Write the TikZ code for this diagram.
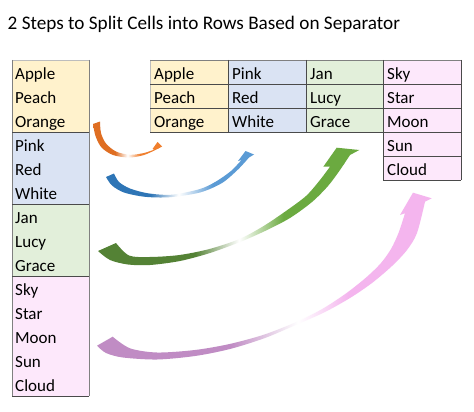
\documentclass[tikz,border=0pt]{standalone}
\usepackage{fontspec}
\setmainfont{Carlito}
\definecolor{cApple}{HTML}{FFF2CC}
\definecolor{cPink}{HTML}{DAE3F3}
\definecolor{cJan}{HTML}{E2EFDA}
\definecolor{cSky}{HTML}{FDE8FB}
\definecolor{gridDark}{HTML}{4A4A4A}
\definecolor{gridLight}{HTML}{BDBDBD}
\definecolor{gridMid}{HTML}{808080}
\definecolor{orT}{HTML}{DF6E22}
\definecolor{orH}{HTML}{F07F2E}
\definecolor{blT}{HTML}{2E75B6}
\definecolor{blH}{HTML}{5B9BD5}
\definecolor{grT}{HTML}{548235}
\definecolor{grH}{HTML}{6BAA40}
\definecolor{piT}{HTML}{C08CC4}
\definecolor{piH}{HTML}{F4B5EE}
\pgfdeclarehorizontalshading{orsh}{100bp}{color(0bp)=(orT); color(41bp)=(orT); color(50bp)=(white); color(59bp)=(orH); color(100bp)=(orH)}
\pgfdeclarehorizontalshading{blsh}{100bp}{color(0bp)=(blT); color(40bp)=(blT); color(49.5bp)=(white); color(61bp)=(blH); color(100bp)=(blH)}
\pgfdeclarehorizontalshading{grsh}{100bp}{color(0bp)=(grT); color(43.5bp)=(grT); color(52bp)=(white); color(60.5bp)=(grH); color(100bp)=(grH)}
\pgfdeclarehorizontalshading{pish}{100bp}{color(0bp)=(piT); color(45bp)=(piT); color(55bp)=(white); color(62.5bp)=(piH); color(100bp)=(piH)}
\tikzset{
  cell/.style={anchor=base west, inner sep=0pt, font=\fontsize{17}{20}\selectfont, text=black},
  titletext/.style={anchor=base west, inner sep=0pt, font=\fontsize{19.2}{22}\selectfont, text=black},
  darkline/.style={draw=gridDark, line width=0.9pt},
  midline/.style={draw=gridMid, line width=0.9pt},
  lightline/.style={draw=gridLight, line width=0.8pt}
}
\begin{document}
\begin{tikzpicture}[x=1pt,y=-1pt]
\useasboundingbox (0,0) rectangle (474,412);
\fill[white] (0,0) rectangle (474,412);
% title
\node[titletext] (title) at (7.5,30) {2 Steps to Split Cells into Rows Based on Separator};
% left column fills
\fill[cApple] (12,60) rectangle (89,132);
\fill[cPink] (12,132) rectangle (89,204);
\fill[cJan] (12,204) rectangle (89,276);
\fill[cSky] (12,276) rectangle (89,396);
% right table fills
\fill[cApple] (150,60) rectangle (228,132);
\fill[cPink] (228,60) rectangle (306,132);
\fill[cJan] (306,60) rectangle (383,132);
\fill[cSky] (383,60) rectangle (461,180);
% left column lines
\draw[lightline] (12,60) -- (89,60);
\draw[midline] (12,60) -- (12,396);
\draw[midline] (89,60) -- (89,396);
\draw[darkline] (12,132) -- (89,132) (12,204) -- (89,204) (12,276) -- (89,276) (12,396) -- (89,396);
% right table lines
\draw[lightline] (150,60) -- (150,132);
\draw[midline] (150,60) -- (461,60);
\draw[darkline] (150,84) -- (461,84) (150,108) -- (461,108) (150,132) -- (461,132);
\draw[darkline] (383,156) -- (461,156) (383,180) -- (461,180);
\draw[darkline] (228,60) -- (228,132) (306,60) -- (306,132) (383,60) -- (383,180) (461,60) -- (461,180);
% left column texts
\foreach \t [count=\i] in {Apple,Peach,Orange,Pink,Red,White,Jan,Lucy,Grace,Sky,Star,Moon,Sun,Cloud}
  \node[cell] (L\i) at (15,{60+24*(\i-1)+19}) {\t};
% right table texts
\foreach \t [count=\i] in {Apple,Peach,Orange}
  \node[cell] (RA\i) at (154,{60+24*(\i-1)+19}) {\t};
\foreach \t [count=\i] in {Pink,Red,White}
  \node[cell] (RB\i) at (232,{60+24*(\i-1)+19}) {\t};
\foreach \t [count=\i] in {Jan,Lucy,Grace}
  \node[cell] (RC\i) at (310,{60+24*(\i-1)+19}) {\t};
\foreach \t [count=\i] in {Sky,Star,Moon,Sun,Cloud}
  \node[cell] (RD\i) at (387,{60+24*(\i-1)+19}) {\t};
% orange arrow
\shade[shading=orsh] plot[smooth] coordinates {(93,124) (95.5,136) (101.5,147.5) (113,155) (129,157.5) (144,155) (158.5,148.5)}
  -- (162,146.5) -- (157.5,142) -- (152.5,149) -- (154.5,149.5)
  -- plot[smooth] coordinates {(154.5,149.5) (144,153) (130,154.8) (116,151.5) (106,143.5) (101,133) (100,121.5)} -- cycle;
% blue arrow
\shade[shading=blsh] plot[smooth] coordinates {(106,177) (112,185.5) (124,192.5) (145,196.8) (170,197.2) (200,192.5) (222,183) (238,169.5) (249,157.5)}
  -- (254,154.5) -- (245.5,151) -- (238,161) -- (241.5,160)
  -- plot[smooth] coordinates {(241.5,160) (231,171) (216,181.5) (200,189) (172,194.7) (148,193.3) (130,188.5) (119,182) (114,173.5)} -- cycle;
% green arrow
\shade[shading=grsh] plot[smooth] coordinates {(98,251) (110,260) (128,264.5) (150,265) (180,261) (210,253) (240,242) (265,231) (290,218) (312,202) (328,186) (340,170) (350,155)}
  -- (359.3,150) -- (336.7,147.7) -- (323.3,166.7) -- (330,166.7)
  -- plot[smooth] coordinates {(330,166.7) (320,180) (306,196) (285.4,211.4) (262.8,226.5) (239,239.2) (208.7,249.2) (178.8,255.1) (149.6,257) (129,255.5) (116,243)} -- cycle;
% pink arrow
\shade[shading=pish] plot[smooth] coordinates {(97,345.7) (106,353) (123,357.5) (157,359.5) (195,356) (230,349) (265,338) (298,324) (325,312) (350,298) (372,283) (392,266) (407,250) (417,233) (425,201.7)}
  -- (431.7,198.3) -- (413,192.7) -- (400,215) -- (405,213.3)
  -- plot[smooth] coordinates {(405,213.3) (398.5,233) (391,249) (381,263) (366.8,276.9) (346.6,293) (323.2,308.4) (297,321.7) (263.8,334.7) (228.7,344.2) (194.1,350.1) (157,352.5) (130,348.3) (112.7,336.7)} -- cycle;
\end{tikzpicture}
\end{document}
